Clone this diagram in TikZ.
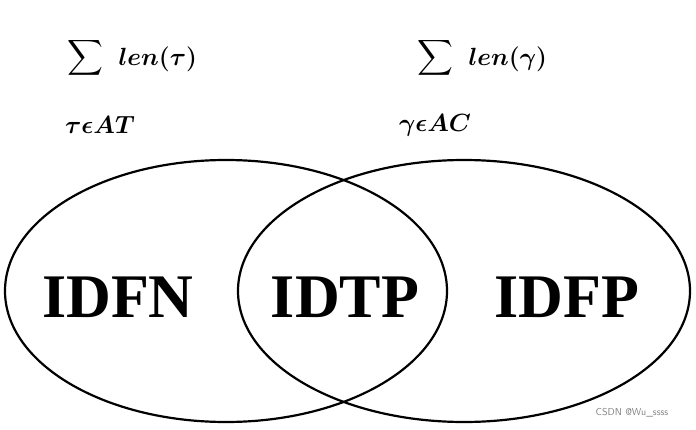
\documentclass[tikz,border=0pt]{standalone}
\usepackage{fontspec}
\setmainfont{Liberation Serif}
\usepackage{amsmath}
\usetikzlibrary{shapes.geometric}
\begin{document}
\begin{tikzpicture}[x=1pt,y=1pt,
  venn/.style={draw,line width=2.2pt,ellipse,inner sep=0pt},
  lab/.style={font=\fontsize{62}{70}\selectfont\bfseries},
  sumsym/.style={font=\fontsize{58}{60}\selectfont\boldmath},
  formula/.style={font=\fontsize{40}{46}\selectfont\boldmath,anchor=west},
  sub/.style={font=\fontsize{26}{30}\selectfont\boldmath}]
\useasboundingbox (0,0) rectangle (696,429);
\node[venn,minimum width=442pt,minimum height=262pt] (L) at (226,138) {};
\node[venn,minimum width=452pt,minimum height=262pt] (R) at (464,138) {};
\node[lab] (fn) at (118,132) {IDFN};
\node[lab] (tp) at (345,132) {IDTP};
\node[lab] (fp) at (567,132) {IDFP};
\node[sumsym] (s1) at (85,371) {$\displaystyle\sum$};
\node[formula] (f1) at (115,370) {$\boldsymbol{len(\tau)}$};
\node[sub] (b1) at (100,304) {$\boldsymbol{\tau\epsilon AT}$};
\node[sumsym] (s2) at (435,371) {$\displaystyle\sum$};
\node[formula] (f2) at (465,370) {$\boldsymbol{len(\gamma)}$};
\node[sub] (b2) at (435,304) {$\boldsymbol{\gamma\epsilon AC}$};
\node[font=\fontsize{10}{12}\selectfont\sffamily,text=gray] (wm) at (632,16) {CSDN @Wu\_ssss};
\end{tikzpicture}
\end{document}
